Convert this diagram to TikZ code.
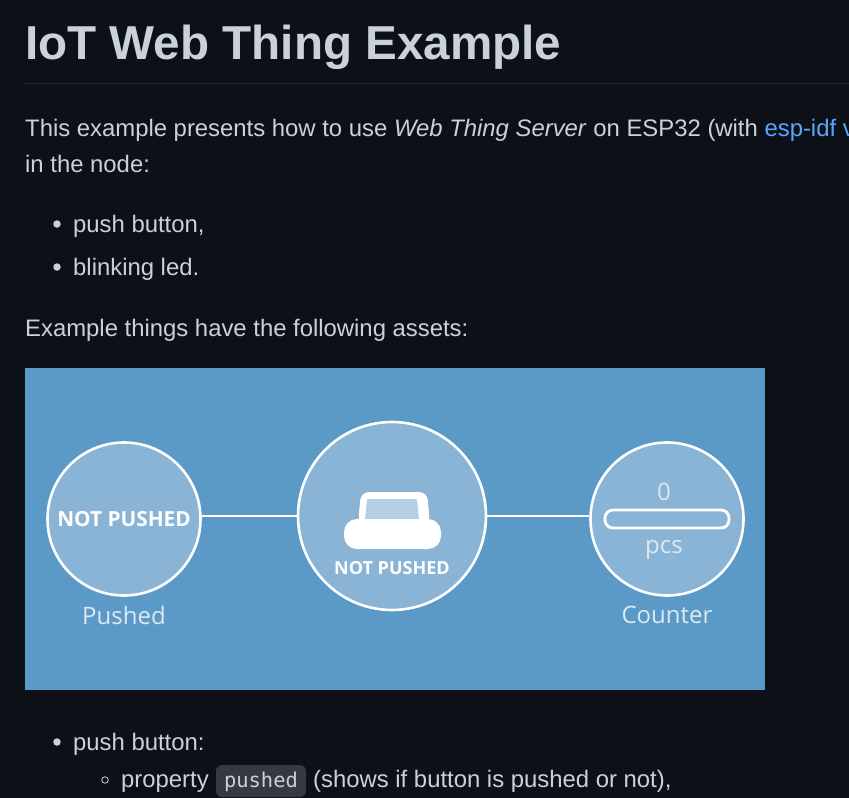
\documentclass[tikz,border=0pt]{standalone}
\usepackage{fontspec}
\setmainfont{Liberation Sans}
\newfontfamily\thingfont{Open Sans}
\setmonofont{DejaVu Sans Mono}
\definecolor{pagebg}{HTML}{0D1117}
\definecolor{pagetext}{HTML}{C9D1D9}
\definecolor{pagerule}{HTML}{21262D}
\definecolor{pagelink}{HTML}{58A6FF}
\definecolor{codebg}{HTML}{343942}
\definecolor{shotbg}{HTML}{5B9AC6}
\definecolor{thingbg}{HTML}{8AB4D6}
\definecolor{thingpale}{HTML}{B5D0E5}
\definecolor{thingtext}{HTML}{DCE9F3}
\tikzset{
    bodytext/.style={anchor=base west, inner sep=0pt, text=pagetext, font=\fontsize{23.87}{24}\selectfont},
    thingcircle/.style={circle, draw=white, fill=thingbg, line width=2.6pt, inner sep=0pt},
    thingline/.style={draw=white, line width=2.8pt},
    thinglabel/.style={inner sep=0pt, text=thingtext, font=\fontsize{24}{24}\thingfont},
    thingbold/.style={inner sep=0pt, text=white, font=\fontsize{20}{20}\thingfont\bfseries},
    itemdot/.style={circle, inner sep=0pt, minimum size=7.5pt, fill=pagetext},
}
\begin{document}
\begin{tikzpicture}[x=1pt, y=-1pt]
    \useasboundingbox (0, 0) rectangle (849, 798);
    \clip (0, 0) rectangle (849, 798);
    \fill[pagebg] (0, 0) rectangle (849, 798);

    % Heading
    \node[bodytext, font=\fontsize{47.6}{48}\selectfont\bfseries] (title) at (25, 59) {IoT Web Thing Example};
    \draw[pagerule, line width=1pt] (25, 83) -- (849, 83);

    % Intro
    \node[bodytext] (intro) at (25, 136) {This example presents how to use \emph{Web Thing Server} on ESP32 (with \textcolor{pagelink}{esp-idf v}};
    \node[bodytext] (intromore) at (25, 172) {in the node:};
    \node[itemdot] (dotone) at (57, 224) {};
    \node[bodytext] (itemone) at (73, 232) {push button,};
    \node[itemdot] (dottwo) at (57, 267) {};
    \node[bodytext] (itemtwo) at (73, 275) {blinking led.};
    \node[bodytext] (assets) at (25, 336) {Example things have the following assets:};

    % Screenshot
    \fill[shotbg] (25, 368) rectangle (765, 690);
    \node[thingcircle, minimum size=153pt] (pushed) at (124, 519) {};
    \node[thingcircle, minimum size=188pt] (button) at (392, 516) {};
    \node[thingcircle, minimum size=153pt] (counter) at (667, 519) {};
    \draw[thingline] (pushed.east |- button.west) -- (button.west);
    \draw[thingline] (button.east) -- (counter.west |- button.east);

    \node[thingbold, font=\fontsize{20.8}{20}\thingfont\bfseries] (pushedval) at (124, 519) {NOT PUSHED};
    \node[thinglabel] (pushedname) at (124, 615) {Pushed};

    % Button icon
    \fill[white, rounded corners=8pt] (358, 524) -- (361, 492) -- (427, 492) -- (430, 524) -- cycle;
    \fill[thingpale, rounded corners=1pt] (365, 521) -- (367, 499) -- (417, 499) -- (419, 521) -- cycle;
    \fill[white, rounded corners=13pt] (344, 519) rectangle (441, 549);
    \node[thingbold, font=\fontsize{18}{18}\thingfont\bfseries] (buttonval) at (392, 568) {NOT PUSHED};

    \node[draw=white, line width=2.8pt, rounded corners=8pt, inner sep=0pt, minimum width=124pt, minimum height=18pt] (bar) at (667, 519) {};
    \node[thinglabel] (countval) at (664, 492) {0};
    \node[thinglabel] (countunit) at (664, 550) {pcs};
    \node[thinglabel] (countname) at (667, 615) {Counter};

    % Assets
    \node[itemdot] (dotthree) at (57, 742) {};
    \node[bodytext] (itemthree) at (73, 750) {push button:};
    \node[circle, draw=pagetext, line width=0.8pt, inner sep=0pt, minimum size=6.5pt] (dotfour) at (105, 780) {};
    \node[bodytext] (itemfour) at (121, 787) {property};
    \node[fill=codebg, rounded corners=6pt, minimum width=90pt, minimum height=32pt, inner sep=0pt] (codebox) at (261, 781) {};
    \node[anchor=base, inner sep=0pt, text=pagetext, font=\fontsize{20.4}{20}\ttfamily] (code) at (261, 787) {pushed};
    \node[bodytext] (itemrest) at (313, 787) {(shows if button is pushed or not),};
\end{tikzpicture}
\end{document}
